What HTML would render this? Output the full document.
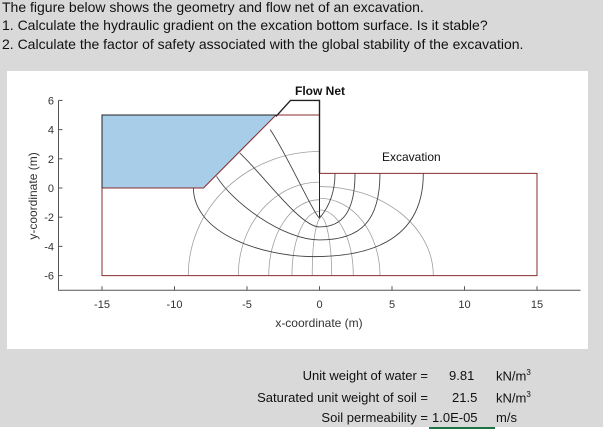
<!DOCTYPE html>
<html><head><meta charset="utf-8">
<style>
html,body{margin:0;padding:0;}
body{width:603px;height:431px;background:#d9d9d9;position:relative;overflow:hidden;font-family:"Liberation Sans",sans-serif;}
.q{position:absolute;left:2px;font-size:14px;color:#111;white-space:nowrap;}
.panel{position:absolute;left:7px;top:71px;width:581px;height:278px;background:#fff;}
.p{position:absolute;font-size:13px;color:#111;white-space:nowrap;}
</style></head>
<body>
<div class="q" style="top:-1px">The figure below shows the geometry and flow net of an excavation.</div>
<div class="q" style="top:17px">1. Calculate the hydraulic gradient on the excation bottom surface. Is it stable?</div>
<div class="q" style="top:36px">2. Calculate the factor of safety associated with the global stability of the excavation.</div>
<div class="panel"></div>
<svg id="chart" width="603" height="431" style="position:absolute;left:0;top:0"></svg>

<div class="p" style="right:175px;top:368px">Unit weight of water =</div>
<div class="p" style="left:449px;top:368px">9.81</div>
<div class="p" style="left:496px;top:368px">kN/m<sup style="font-size:8px">3</sup></div>
<div class="p" style="right:175px;top:390px">Saturated unit weight of soil =</div>
<div class="p" style="left:452px;top:390px">21.5</div>
<div class="p" style="left:496px;top:390px">kN/m<sup style="font-size:8px">3</sup></div>
<div class="p" style="right:175px;top:410px">Soil permeability =</div>
<div class="p" style="left:432px;top:410px">1.0E-05</div>
<div class="p" style="left:496px;top:410px">m/s</div>
<div style="position:absolute;left:0;top:427px;width:603px;height:4px;background:#fff"></div>
<div style="position:absolute;left:429px;top:427px;width:66px;height:2px;background:#217346"></div>

<script>
const xTicks=[-15,-10,-5,0,5,10,15];
const yTicks=[6,4,2,0,-2,-4,-6];
const waterPoly=[[-15,5],[-3,5],[-8,0],[-15,0]];
const soilPoly=[[-15,0],[-8,0],[-3,5],[0,5],[0,1],[15,1],[15,-6],[-15,-6]];
// flow lines
const flowStart=[[-3.4,4.0],[-5.5,2.4],[-7.1,0.8],[-8.7,0.05]];
const flowBottom=[[0,-2.07],[0,-2.67],[0,-3.56],[-0.4,-4.7]];
const flowEndX=[1.07,2.45,4.17,7.16];
const flowC1=[[-2.3,2.4],[-3.8,0.8],[-6,-1.0],[-8.7,-3.2]];
const flowC2=[[-0.5,-1.6],[-1.3,-2.67],[-2.5,-3.56],[-3.8,-4.7]];
const flowC3=[[0.4,-1.6],[1.6,-2.67],[2.9,-3.56],[3.8,-4.7]];
const flowC4=[[1.07,-0.6],[2.45,-1.6],[4.17,-2.2],[7.16,-3.4]];
// equipotentials: left quarter arcs (bottom x, wall height) and right ones
const eqLeftX=[-9.05,-5.6,-3.5,-1.9];
const eqLeftTop=[2.5,0.4,-0.8,-1.6];
const eqRightX=[7.85,4.17,2.33,0.84];
const eqRightTop=[0.1,-0.7,-1.5,-1.9];
const eqCenterX=-0.5;

const NS='http://www.w3.org/2000/svg';
const svg=document.getElementById('chart');
const X=v=>319.5+v*14.5;
const Y=v=>188+v*(-14.6);
function el(tag,attrs,parent){const e=document.createElementNS(NS,tag);for(const k in attrs)e.setAttribute(k,attrs[k]);(parent||svg).appendChild(e);return e;}
const pts=a=>a.map(p=>X(p[0])+','+Y(p[1])).join(' ');

const defs=el('defs',{});
const cp=el('clipPath',{id:'soilclip'},defs);
el('polygon',{points:pts(soilPoly)},cp);

let w=el('polygon',{points:pts(waterPoly),fill:'#a7cde8',stroke:'none'});



const g=el('g',{'clip-path':'url(#soilclip)'});


for(let i=0;i<eqLeftX.length;i++){
  const rx=Math.abs(eqLeftX[i])*14.5, ry=(eqLeftTop[i]+6)*14.6;
  const e=el('path',{d:`M${X(eqLeftX[i])},${Y(-6)} A${rx},${ry} 0 0 1 ${X(0)},${Y(eqLeftTop[i])}`,fill:'none',stroke:'#a0a0a0','stroke-width':0.8},g);
  
  
}
for(let i=0;i<eqRightX.length;i++){
  const rx=eqRightX[i]*14.5, ry=(eqRightTop[i]+6)*14.6;
  const e=el('path',{d:`M${X(0)},${Y(eqRightTop[i])} A${rx},${ry} 0 0 1 ${X(eqRightX[i])},${Y(-6)}`,fill:'none',stroke:'#a0a0a0','stroke-width':0.8},g);
  
  
}
let ec=el('path',{d:`M${X(0)},${Y(-2.07)} Q${X(eqCenterX)},${Y(-3)} ${X(eqCenterX)},${Y(-6)}`,fill:'none',stroke:'#a0a0a0','stroke-width':0.8},g);


for(let i=0;i<flowStart.length;i++){
  const s=flowStart[i],b=flowBottom[i],c1=flowC1[i],c2=flowC2[i],c3=flowC3[i],c4=flowC4[i];
  const d=`M${X(s[0])},${Y(s[1])} C${X(c1[0])},${Y(c1[1])} ${X(c2[0])},${Y(c2[1])} ${X(b[0])},${Y(b[1])} C${X(c3[0])},${Y(c3[1])} ${X(c4[0])},${Y(c4[1])} ${X(flowEndX[i])},${Y(1)}`;
  const p=el('path',{d:d,fill:'none',stroke:'#444','stroke-width':0.9},g);
  
  
}

let so=el('polygon',{points:pts(soilPoly),fill:'none',stroke:'#8a2b2b','stroke-width':1});


let wo=el('polyline',{points:pts([[-15,0],[-15,5],[-3,5]]),fill:'none',stroke:'#222','stroke-width':1});


let wall=el('polyline',{points:pts([[-3,4.9],[-2,6],[0,6],[0,1]]),fill:'none',stroke:'#222','stroke-width':1.4});


let wall2=el('line',{x1:X(0),y1:Y(1),x2:X(0),y2:Y(-2),stroke:'#222','stroke-width':1});



const ax=el('path',{d:`M${X(-18)},${Y(6)} L${X(-18)},${Y(-7)} L${X(18)},${Y(-7)}`,fill:'none',stroke:'#555','stroke-width':1});


xTicks.forEach(v=>{
  el('line',{x1:X(v),y1:Y(-7),x2:X(v),y2:Y(-7)-4,stroke:'#555'});
  const t=el('text',{x:X(v),y:308,'font-size':11,'text-anchor':'middle',fill:'#333','font-family':'Liberation Sans, sans-serif'});
  t.textContent=v;
  
  
});
yTicks.forEach(v=>{
  el('line',{x1:X(-18),y1:Y(v),x2:X(-18)+4,y2:Y(v),stroke:'#555'});
  const t=el('text',{x:54,y:Y(v)+4,'font-size':11,'text-anchor':'end',fill:'#333','font-family':'Liberation Sans, sans-serif'});
  t.textContent=v;
  
  
});
let xl=el('text',{x:319,y:327,'font-size':12,'text-anchor':'middle',fill:'#333','font-family':'Liberation Sans, sans-serif'});
xl.textContent='x-coordinate (m)';


let yl=el('text',{x:0,y:0,'font-size':12,'text-anchor':'middle',fill:'#333','font-family':'Liberation Sans, sans-serif',transform:'translate(37,196) rotate(-90)'});
yl.textContent='y-coordinate (m)';


let ti=el('text',{x:320,y:95,'font-size':12,'font-weight':'bold','text-anchor':'middle',fill:'#111','font-family':'Liberation Sans, sans-serif'});
ti.textContent='Flow Net';


let ex=el('text',{x:382,y:161,'font-size':12,fill:'#111','font-family':'Liberation Sans, sans-serif'});
ex.textContent='Excavation';


</script>
</body></html>
